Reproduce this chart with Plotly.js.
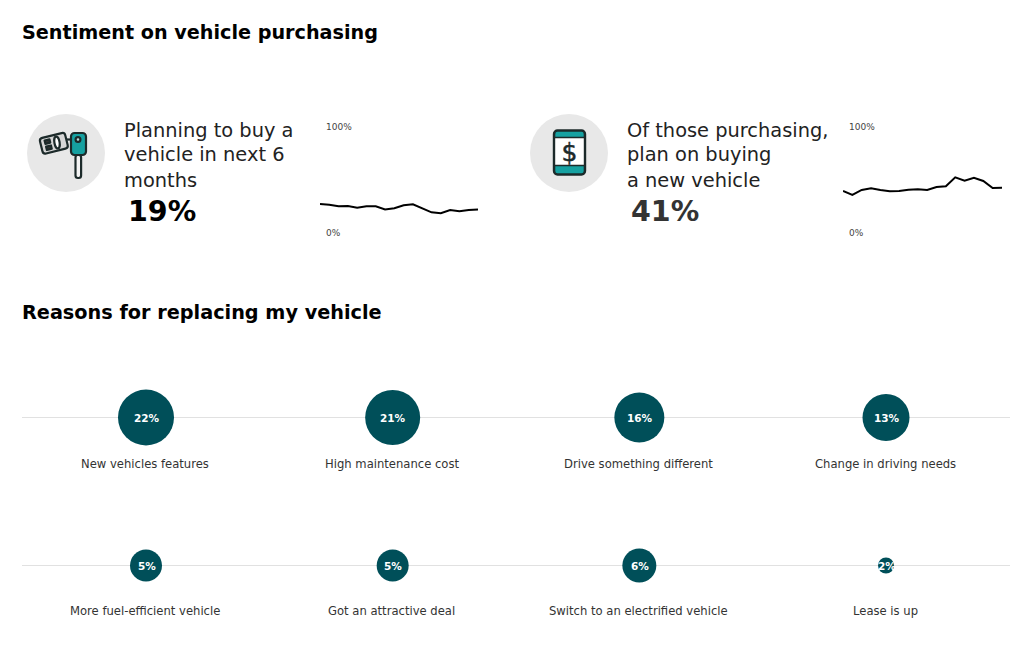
<!DOCTYPE html>
<html>
<head>
<meta charset="utf-8">
<script src="https://cdn.plot.ly/plotly-3.0.1.min.js"></script>
<style>html,body{margin:0;padding:0;background:#fff;overflow:hidden}#chart{width:1024px;height:654px}</style>
</head>
<body>
<div id="chart"></div>
<script>
// ---- data ----
const buyingTrend = [24.5,23.8,22.1,22.4,20.7,22.1,22.1,19,20.1,23.2,24.2,20.1,16,15,18.4,17,18.4,19];
const newVehicleTrend = [37.8,33.7,38.8,40.5,38.8,37.4,37.8,39.1,39.5,38.8,41.8,42.6,51.7,48.3,51.3,48,40.8,41];
const reasonsTop = ["New vehicles features","High maintenance cost","Drive something different","Change in driving needs"];
const reasonsTopValues = [22,21,16,13];
const reasonsBottom = ["More fuel-efficient vehicle","Got an attractive deal","Switch to an electrified vehicle","Lease is up"];
const reasonsBottomValues = [5,5,6,2];
const headline1 = ["Planning to buy a","vehicle in next 6","months"];
const headline2 = ["Of those purchasing,","plan on buying","a new vehicle"];
// bubble diameters, px
const topDiameters = [56,55,50,47];
const bottomDiameters = [32,32,34,16];

const W = 1024, H = 654;
const FONT = '"DejaVu Sans", Verdana, sans-serif';
const px = x => x / W;
const py = y => 1 - y / H;

function label(text, x, y, size, color, bold, anchor) {
  return {text: bold ? '<b>' + text + '</b>' : text, xref:'paper', yref:'paper', x:px(x), y:py(y),
    xanchor: anchor || 'left', yanchor:'middle', showarrow:false, borderpad:0,
    font:{family:FONT, size:size, color:color}};
}
function idx(a){ return a.map((_, i) => i); }

const annotations = [
  label('Sentiment on vehicle purchasing', 21, 32.5, 19.2, '#000', true),
  label('Reasons for replacing my vehicle', 21, 312.5, 19.25, '#000', true),
  label('19%', 127, 211.5, 28.5, '#000', true),
  label('41%', 630, 211.5, 28.5, '#333', true),
  label('100%', 324.5, 127, 9, '#444'),
  label('0%', 324.5, 233, 9, '#444'),
  label('100%', 847.5, 127, 9, '#444'),
  label('0%', 847.5, 233, 9, '#444')
];
headline1.forEach((t, i) => annotations.push(label(t, 122.5, 130 + 25 * i, 19.4, '#222')));
headline2.forEach((t, i) => annotations.push(label(t, 625.5, 130 + 25 * i, 19.4, '#222')));

function catLabels(names, yVal, shift) {
  return names.map((n, i) => ({text:n, xref:'x3', yref:'y3', x:i, y:yVal, yshift:shift, xshift:-1, xanchor:'center', yanchor:'middle',
    showarrow:false, borderpad:0, font:{family:FONT, size:11.6, color:'#333'}}));
}
function valueLabels(values, yVal) {
  return values.map((v, i) => ({text:'<b>' + v + '%</b>', xref:'x3', yref:'y3', x:i, y:yVal, yshift:-0.5, xshift:0.5, xanchor:'center', yanchor:'middle',
    showarrow:false, borderpad:0, font:{family:FONT, size:10.5, color:'#fff'}}));
}
annotations.push(...catLabels(reasonsTop, 1, -46), ...catLabels(reasonsBottom, 0, -45),
  ...valueLabels(reasonsTopValues, 1), ...valueLabels(reasonsBottomValues, 0));

const xLo = (22 - 146) / 246.67, xHi = (1010 - 146) / 246.67;

function bubbles(values, diam, yVal) {
  return {type:'scatter', mode:'markers', xaxis:'x3', yaxis:'y3', cliponaxis:false, hoverinfo:'skip',
    x:idx(values), y:values.map(() => yVal),
    marker:{size:diam, color:'#004f59', opacity:1, line:{width:0}}};
}
function rule(yVal) {
  return {type:'scatter', mode:'lines', xaxis:'x3', yaxis:'y3', hoverinfo:'skip', cliponaxis:false,
    x:[xLo, xHi], y:[yVal, yVal], line:{color:'#c4c4c4', width:1}};
}
const traces = [
  {type:'scatter', mode:'lines', x:idx(buyingTrend), y:buyingTrend, xaxis:'x', yaxis:'y',
    line:{color:'#000', width:2}, hoverinfo:'skip'},
  {type:'scatter', mode:'lines', x:idx(newVehicleTrend), y:newVehicleTrend, xaxis:'x2', yaxis:'y2',
    line:{color:'#000', width:2}, hoverinfo:'skip'},
  rule(1), rule(0),
  bubbles(reasonsTopValues, topDiameters, 1),
  bubbles(reasonsBottomValues, bottomDiameters, 0)
];

const svgKey = `<svg xmlns="http://www.w3.org/2000/svg" width="80" height="80" viewBox="0 0 80 80">
<circle cx="40" cy="40" r="39" fill="#e8e8e8"/>
<g stroke="#1c2a2a" stroke-width="2.2" fill="none" stroke-linejoin="round">
<rect x="15" y="22.5" width="26" height="16" rx="3" transform="rotate(-14 27 31)" fill="#d6d6d6"/>
<rect x="19" y="27" width="5" height="3.4" fill="#333" transform="rotate(-14 21 29)"/>
<rect x="20.5" y="33" width="5" height="3.4" fill="#333" transform="rotate(-14 23 35)"/>
<ellipse cx="31" cy="29.5" rx="2.6" ry="6" fill="#fff" transform="rotate(-10 31 29.5)"/>
<path d="M40 26.5 L49 26.5"/>
<rect x="45" y="20" width="15" height="22" rx="3.5" fill="#16a1a1"/>
<circle cx="52" cy="26.5" r="2.4" fill="#b8dcdc"/>
<rect x="49.5" y="42" width="5.6" height="23" rx="2.4" fill="#f4f4f4"/>
</g></svg>`;
const svgPhone = `<svg xmlns="http://www.w3.org/2000/svg" width="80" height="80" viewBox="0 0 80 80">
<circle cx="40" cy="40" r="39" fill="#e8e8e8"/>
<rect x="25" y="17.5" width="31" height="44" rx="3.5" fill="#fff" stroke="#1c2a2a" stroke-width="2.4"/>
<path d="M25.5 24.5 V21 A3 3 0 0 1 28.5 18 H52.5 A3 3 0 0 1 55.5 21 V24.5 Z" fill="#16a1a1" stroke="#1c2a2a" stroke-width="1.6"/>
<path d="M25.5 52.5 V58 A3 3 0 0 0 28.5 61 H52.5 A3 3 0 0 0 55.5 58 V52.5 Z" fill="#16a1a1" stroke="#1c2a2a" stroke-width="1.6"/>
<text x="40.5" y="48" text-anchor="middle" font-family="DejaVu Sans, sans-serif" font-size="25" stroke="#1c2a2a" stroke-width="0.5" fill="#1c2a2a">$</text>
</svg>`;
function icon(svg, x, y) {
  return {source:'data:image/svg+xml;charset=utf-8,' + encodeURIComponent(svg), xref:'paper', yref:'paper',
    x:px(x), y:py(y), sizex:80/W, sizey:80/H, xanchor:'left', yanchor:'top', sizing:'stretch', layer:'below'};
}

const hidden = {visible:false, showgrid:false, zeroline:false, fixedrange:true};
const layout = {
  width:W, height:H, margin:{l:0, r:0, t:0, b:0, pad:0}, showlegend:false,
  paper_bgcolor:'#fff', plot_bgcolor:'rgba(0,0,0,0)',
  font:{family:FONT},
  xaxis:Object.assign({}, hidden, {domain:[px(320), px(478)], range:[0,17], anchor:'y'}),
  yaxis:Object.assign({}, hidden, {domain:[py(228), py(130)], range:[0,100], anchor:'x'}),
  xaxis2:Object.assign({}, hidden, {domain:[px(843), px(1002)], range:[0,17], anchor:'y2'}),
  yaxis2:Object.assign({}, hidden, {domain:[py(228), py(130)], range:[0,100], anchor:'x2'}),
  xaxis3:Object.assign({}, hidden, {domain:[px(22), px(1010)], range:[xLo, xHi], anchor:'y3'}),
  yaxis3:Object.assign({}, hidden, {domain:[py(565.5), py(417.5)], range:[0,1], anchor:'x3'}),
  annotations:annotations,
  images:[icon(svgKey, 26, 113), icon(svgPhone, 529, 113)]
};
Plotly.newPlot('chart', traces, layout, {displayModeBar:false, staticPlot:true});
</script>
</body>
</html>
